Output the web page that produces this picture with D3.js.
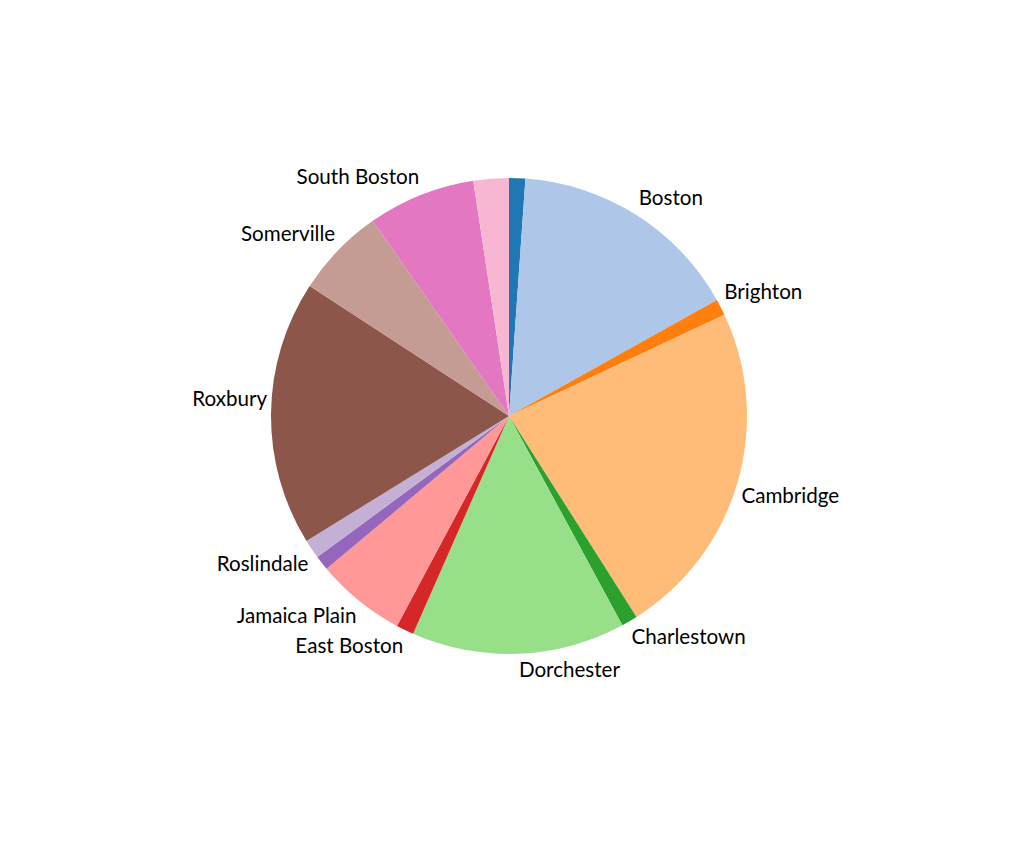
<!DOCTYPE html>
<html>
<head>
<meta charset="utf-8">
<script src="https://cdn.jsdelivr.net/npm/d3@7"></script>
<style>
  body { margin: 0; background: #fff; }
  text { font-family: Lato, "Open Sans", sans-serif; font-size: 20.6px; fill: #000; }
</style>
</head>
<body>
<div id="chart"></div>
<script>
// share of listings per neighbourhood (%), in drawing order
var neighborhoods = ["", "Boston", "Brighton", "Cambridge", "Charlestown", "Dorchester",
    "East Boston", "Jamaica Plain", "", "Roslindale", "Roxbury", "Somerville", "South Boston", ""];
var shares = [1.1, 15.8, 1.1, 23.0, 1.1, 14.5, 1.2, 6.1, 1.0, 1.3, 18.0, 6.1, 7.3, 2.4];
// old d3 category20
var category20 = ["#1f77b4", "#aec7e8", "#ff7f0e", "#ffbb78", "#2ca02c", "#98df8a", "#d62728",
    "#ff9896", "#9467bd", "#c5b0d5", "#8c564b", "#c49c94", "#e377c2", "#f7b6d2"];

var width = 1024, height = 861,
    radius = 238;

var data = neighborhoods.map(function (n, i) {
    return { name: n, value: shares[i] };
});

var svg = d3.select("#chart").append("svg")
    .attr("width", width)
    .attr("height", height);

var g = svg.append("g")
    .attr("transform", "translate(509,416)");

var color = d3.scaleOrdinal()
    .domain(d3.range(data.length))
    .range(category20);

var pie = d3.pie()
    .sort(null)
    .value(function (d) { return d.value; });

var arc = d3.arc()
    .innerRadius(0)
    .outerRadius(radius);

var labelArc = d3.arc()
    .innerRadius(radius + 4)
    .outerRadius(radius + 4);

var arcs = g.selectAll(".arc")
    .data(pie(data))
    .enter().append("g")
    .attr("class", "arc");

arcs.append("path")
    .attr("d", arc)
    .attr("fill", function (d, i) { return color(i); });

arcs.filter(function (d) { return d.data.name !== ""; })
    .append("text")
    .attr("transform", function (d) { return "translate(" + labelArc.centroid(d) + ")"; })
    .attr("dy", function (d) {
        var mid = (d.startAngle + d.endAngle) / 2;
        // labels on the lower half hang below the anchor
        return Math.cos(mid) < 0 ? "0.95em" : "-0.33em";
    })
    .attr("text-anchor", function (d) {
        var mid = (d.startAngle + d.endAngle) / 2;
        return mid < Math.PI ? "start" : "end";
    })
    .text(function (d) { return d.data.name; });
</script>
</body>
</html>
